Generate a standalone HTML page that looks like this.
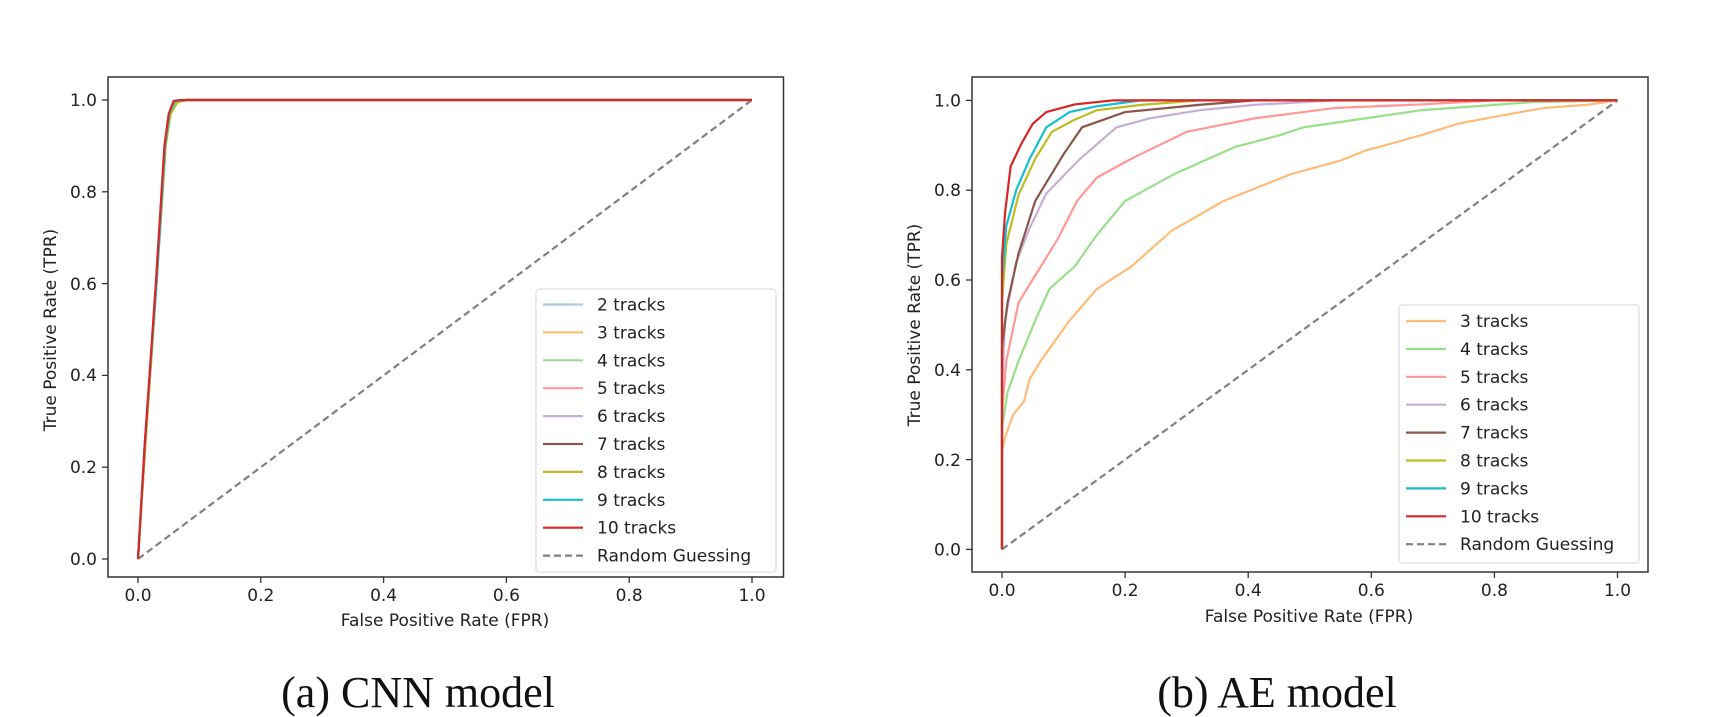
<!DOCTYPE html>
<html><head><meta charset="utf-8"><style>
html,body{margin:0;padding:0;background:#fff;}
svg{display:block;}
text{font-family:"DejaVu Sans","Liberation Sans",sans-serif;fill:#222;}
.cap{font-family:"Liberation Serif",serif;font-size:44px;fill:#111;}
path.c{fill:none;stroke-width:2.2;vector-effect:non-scaling-stroke;stroke-linejoin:round;}
</style></head><body>
<svg width="1726" height="717" viewBox="0 0 1726 717" xmlns="http://www.w3.org/2000/svg">
<rect width="1726" height="717" fill="#fff"/>

<!-- LEFT PANEL -->
<g transform="translate(138,559) scale(614,-459)">
 <path class="c" stroke="#808080" stroke-dasharray="7,4" d="M0,0 L1,1"/>
 <path class="c" stroke="#aec7e8" d="M0,0 L0.012,0.25 L0.03,0.6 L0.045,0.9 L0.052,0.97 L0.062,0.997 L0.08,1 L1,1"/>
 <path class="c" stroke="#ffbb78" d="M0,0 L0.012,0.25 L0.03,0.6 L0.045,0.9 L0.053,0.97 L0.064,0.995 L0.08,1 L1,1"/>
 <path class="c" stroke="#98df8a" d="M0,0 L0.012,0.25 L0.03,0.6 L0.045,0.9 L0.053,0.97 L0.064,0.995 L0.08,1 L1,1"/>
 <path class="c" stroke="#ff9896" d="M0,0 L0.012,0.25 L0.03,0.6 L0.045,0.9 L0.052,0.97 L0.062,0.997 L0.08,1 L1,1"/>
 <path class="c" stroke="#c5b0d5" d="M0,0 L0.012,0.25 L0.03,0.6 L0.045,0.9 L0.052,0.97 L0.062,0.997 L0.08,1 L1,1"/>
 <path class="c" stroke="#8c564b" d="M0,0 L0.011,0.25 L0.03,0.6 L0.044,0.9 L0.051,0.97 L0.06,0.998 L0.08,1 L1,1"/>
 <path class="c" stroke="#bcbd22" d="M0,0 L0.012,0.25 L0.03,0.6 L0.045,0.9 L0.053,0.97 L0.064,0.995 L0.08,1 L1,1"/>
 <path class="c" stroke="#17becf" d="M0,0 L0.011,0.25 L0.03,0.6 L0.044,0.9 L0.051,0.97 L0.06,0.998 L0.08,1 L1,1"/>
 <path class="c" stroke="#d62728" d="M0,0 L0.011,0.25 L0.029,0.6 L0.043,0.9 L0.05,0.97 L0.058,0.998 L0.07,1 L1,1"/>
</g>
<rect x="108" y="77" width="675.5" height="500" fill="none" stroke="#333" stroke-width="1.5"/>
<g stroke="#333" stroke-width="1.3">
 <line x1="138" y1="577" x2="138" y2="583"/><line x1="260.8" y1="577" x2="260.8" y2="583"/><line x1="383.6" y1="577" x2="383.6" y2="583"/><line x1="506.4" y1="577" x2="506.4" y2="583"/><line x1="629.2" y1="577" x2="629.2" y2="583"/><line x1="752" y1="577" x2="752" y2="583"/>
 <line x1="102" y1="559" x2="108" y2="559"/><line x1="102" y1="467.2" x2="108" y2="467.2"/><line x1="102" y1="375.4" x2="108" y2="375.4"/><line x1="102" y1="283.6" x2="108" y2="283.6"/><line x1="102" y1="191.8" x2="108" y2="191.8"/><line x1="102" y1="100" x2="108" y2="100"/>
</g>
<g font-size="17" text-anchor="middle">
 <text x="138" y="601">0.0</text><text x="260.8" y="601">0.2</text><text x="383.6" y="601">0.4</text><text x="506.4" y="601">0.6</text><text x="629.2" y="601">0.8</text><text x="752" y="601">1.0</text>
 <text x="445" y="626">False Positive Rate (FPR)</text>
</g>
<g font-size="17" text-anchor="end">
 <text x="97" y="565">0.0</text><text x="97" y="473">0.2</text><text x="97" y="381">0.4</text><text x="97" y="290">0.6</text><text x="97" y="198">0.8</text><text x="97" y="106">1.0</text>
</g>
<text font-size="17" text-anchor="middle" transform="translate(56,330) rotate(-90)">True Positive Rate (TPR)</text>
<rect x="536" y="289" width="240" height="283" rx="3" fill="#fff" stroke="#ddd" stroke-width="1.2"/>
<g stroke-width="2.2">
 <line x1="543" y1="304.5" x2="583" y2="304.5" stroke="#aec7e8"/>
 <line x1="543" y1="332.4" x2="583" y2="332.4" stroke="#ffbb78"/>
 <line x1="543" y1="360.3" x2="583" y2="360.3" stroke="#98df8a"/>
 <line x1="543" y1="388.2" x2="583" y2="388.2" stroke="#ff9896"/>
 <line x1="543" y1="416.1" x2="583" y2="416.1" stroke="#c5b0d5"/>
 <line x1="543" y1="444" x2="583" y2="444" stroke="#8c564b"/>
 <line x1="543" y1="471.9" x2="583" y2="471.9" stroke="#bcbd22"/>
 <line x1="543" y1="499.8" x2="583" y2="499.8" stroke="#17becf"/>
 <line x1="543" y1="527.7" x2="583" y2="527.7" stroke="#d62728"/>
 <line x1="543" y1="555.6" x2="583" y2="555.6" stroke="#808080" stroke-dasharray="7,4"/>
</g>
<g font-size="17">
 <text x="597" y="310.5">2 tracks</text><text x="597" y="338.4">3 tracks</text><text x="597" y="366.3">4 tracks</text><text x="597" y="394.2">5 tracks</text><text x="597" y="422.1">6 tracks</text><text x="597" y="450">7 tracks</text><text x="597" y="477.9">8 tracks</text><text x="597" y="505.8">9 tracks</text><text x="597" y="533.7">10 tracks</text><text x="597" y="561.6">Random Guessing</text>
</g>
<text class="cap" x="418" y="707" text-anchor="middle">(a) CNN model</text>

<!-- RIGHT PANEL -->
<g transform="translate(1002,549.4) scale(615.5,-449)">
 <path class="c" stroke="#808080" stroke-dasharray="7,4" d="M0,0 L1,1"/>
 <path class="c" stroke="#ffbb78" d="M0,0 L0,0.22 L0.005,0.25 L0.018,0.3 L0.036,0.33 L0.045,0.38 L0.063,0.42 L0.11,0.51 L0.154,0.58 L0.21,0.63 L0.276,0.71 L0.36,0.776 L0.47,0.836 L0.55,0.866 L0.59,0.888 L0.68,0.922 L0.74,0.948 L0.81,0.966 L0.88,0.983 L0.95,0.99 L1,1"/>
 <path class="c" stroke="#98df8a" d="M0,0 L0,0.27 L0.009,0.35 L0.027,0.42 L0.054,0.51 L0.077,0.58 L0.118,0.63 L0.154,0.7 L0.2,0.776 L0.28,0.836 L0.38,0.897 L0.45,0.922 L0.49,0.94 L0.59,0.96 L0.68,0.978 L0.77,0.987 L0.86,0.996 L1,1"/>
 <path class="c" stroke="#ff9896" d="M0,0 L0,0.3 L0.007,0.42 L0.027,0.55 L0.054,0.61 L0.09,0.69 L0.122,0.776 L0.154,0.828 L0.21,0.87 L0.3,0.93 L0.41,0.96 L0.54,0.983 L0.68,0.991 L0.8,1 L1,1"/>
 <path class="c" stroke="#c5b0d5" d="M0,0 L0,0.35 L0.005,0.51 L0.023,0.64 L0.045,0.716 L0.072,0.793 L0.127,0.87 L0.186,0.94 L0.24,0.96 L0.32,0.978 L0.41,0.99 L0.54,1 L1,1"/>
 <path class="c" stroke="#8c564b" d="M0,0 L0,0.45 L0.009,0.55 L0.027,0.66 L0.054,0.776 L0.1,0.88 L0.13,0.94 L0.2,0.974 L0.32,0.99 L0.41,1 L1,1"/>
 <path class="c" stroke="#bcbd22" d="M0,0 L0,0.55 L0.007,0.68 L0.027,0.79 L0.054,0.87 L0.081,0.93 L0.118,0.957 L0.154,0.978 L0.226,0.99 L0.32,1 L1,1"/>
 <path class="c" stroke="#17becf" d="M0,0 L0,0.6 L0.007,0.72 L0.023,0.8 L0.045,0.87 L0.072,0.94 L0.11,0.974 L0.154,0.987 L0.226,1 L1,1"/>
 <path class="c" stroke="#d62728" d="M0,0 L0,0.65 L0.005,0.75 L0.014,0.853 L0.032,0.905 L0.05,0.948 L0.072,0.974 L0.118,0.991 L0.18,1 L1,1"/>
</g>
<rect x="972" y="77" width="676" height="495" fill="none" stroke="#333" stroke-width="1.5"/>
<g stroke="#333" stroke-width="1.3">
 <line x1="1002" y1="572" x2="1002" y2="578"/><line x1="1125.1" y1="572" x2="1125.1" y2="578"/><line x1="1248.2" y1="572" x2="1248.2" y2="578"/><line x1="1371.3" y1="572" x2="1371.3" y2="578"/><line x1="1494.4" y1="572" x2="1494.4" y2="578"/><line x1="1617.5" y1="572" x2="1617.5" y2="578"/>
 <line x1="966" y1="549.4" x2="972" y2="549.4"/><line x1="966" y1="459.6" x2="972" y2="459.6"/><line x1="966" y1="369.8" x2="972" y2="369.8"/><line x1="966" y1="280" x2="972" y2="280"/><line x1="966" y1="190.2" x2="972" y2="190.2"/><line x1="966" y1="100.4" x2="972" y2="100.4"/>
</g>
<g font-size="17" text-anchor="middle">
 <text x="1002" y="596">0.0</text><text x="1125.1" y="596">0.2</text><text x="1248.2" y="596">0.4</text><text x="1371.3" y="596">0.6</text><text x="1494.4" y="596">0.8</text><text x="1617.5" y="596">1.0</text>
 <text x="1309" y="622">False Positive Rate (FPR)</text>
</g>
<g font-size="17" text-anchor="end">
 <text x="961" y="555.5">0.0</text><text x="961" y="466">0.2</text><text x="961" y="376">0.4</text><text x="961" y="286">0.6</text><text x="961" y="196">0.8</text><text x="961" y="106.5">1.0</text>
</g>
<text font-size="17" text-anchor="middle" transform="translate(920,325) rotate(-90)">True Positive Rate (TPR)</text>
<rect x="1399" y="305" width="240" height="258" rx="3" fill="#fff" stroke="#ddd" stroke-width="1.2"/>
<g stroke-width="2.2">
 <line x1="1406" y1="321" x2="1446" y2="321" stroke="#ffbb78"/>
 <line x1="1406" y1="348.9" x2="1446" y2="348.9" stroke="#98df8a"/>
 <line x1="1406" y1="376.8" x2="1446" y2="376.8" stroke="#ff9896"/>
 <line x1="1406" y1="404.7" x2="1446" y2="404.7" stroke="#c5b0d5"/>
 <line x1="1406" y1="432.6" x2="1446" y2="432.6" stroke="#8c564b"/>
 <line x1="1406" y1="460.5" x2="1446" y2="460.5" stroke="#bcbd22"/>
 <line x1="1406" y1="488.4" x2="1446" y2="488.4" stroke="#17becf"/>
 <line x1="1406" y1="516.3" x2="1446" y2="516.3" stroke="#d62728"/>
 <line x1="1406" y1="544.2" x2="1446" y2="544.2" stroke="#808080" stroke-dasharray="7,4"/>
</g>
<g font-size="17">
 <text x="1460" y="327">3 tracks</text><text x="1460" y="354.9">4 tracks</text><text x="1460" y="382.8">5 tracks</text><text x="1460" y="410.7">6 tracks</text><text x="1460" y="438.6">7 tracks</text><text x="1460" y="466.5">8 tracks</text><text x="1460" y="494.4">9 tracks</text><text x="1460" y="522.3">10 tracks</text><text x="1460" y="550.2">Random Guessing</text>
</g>
<text class="cap" x="1277" y="707" text-anchor="middle">(b) AE model</text>
</svg>
</body></html>
